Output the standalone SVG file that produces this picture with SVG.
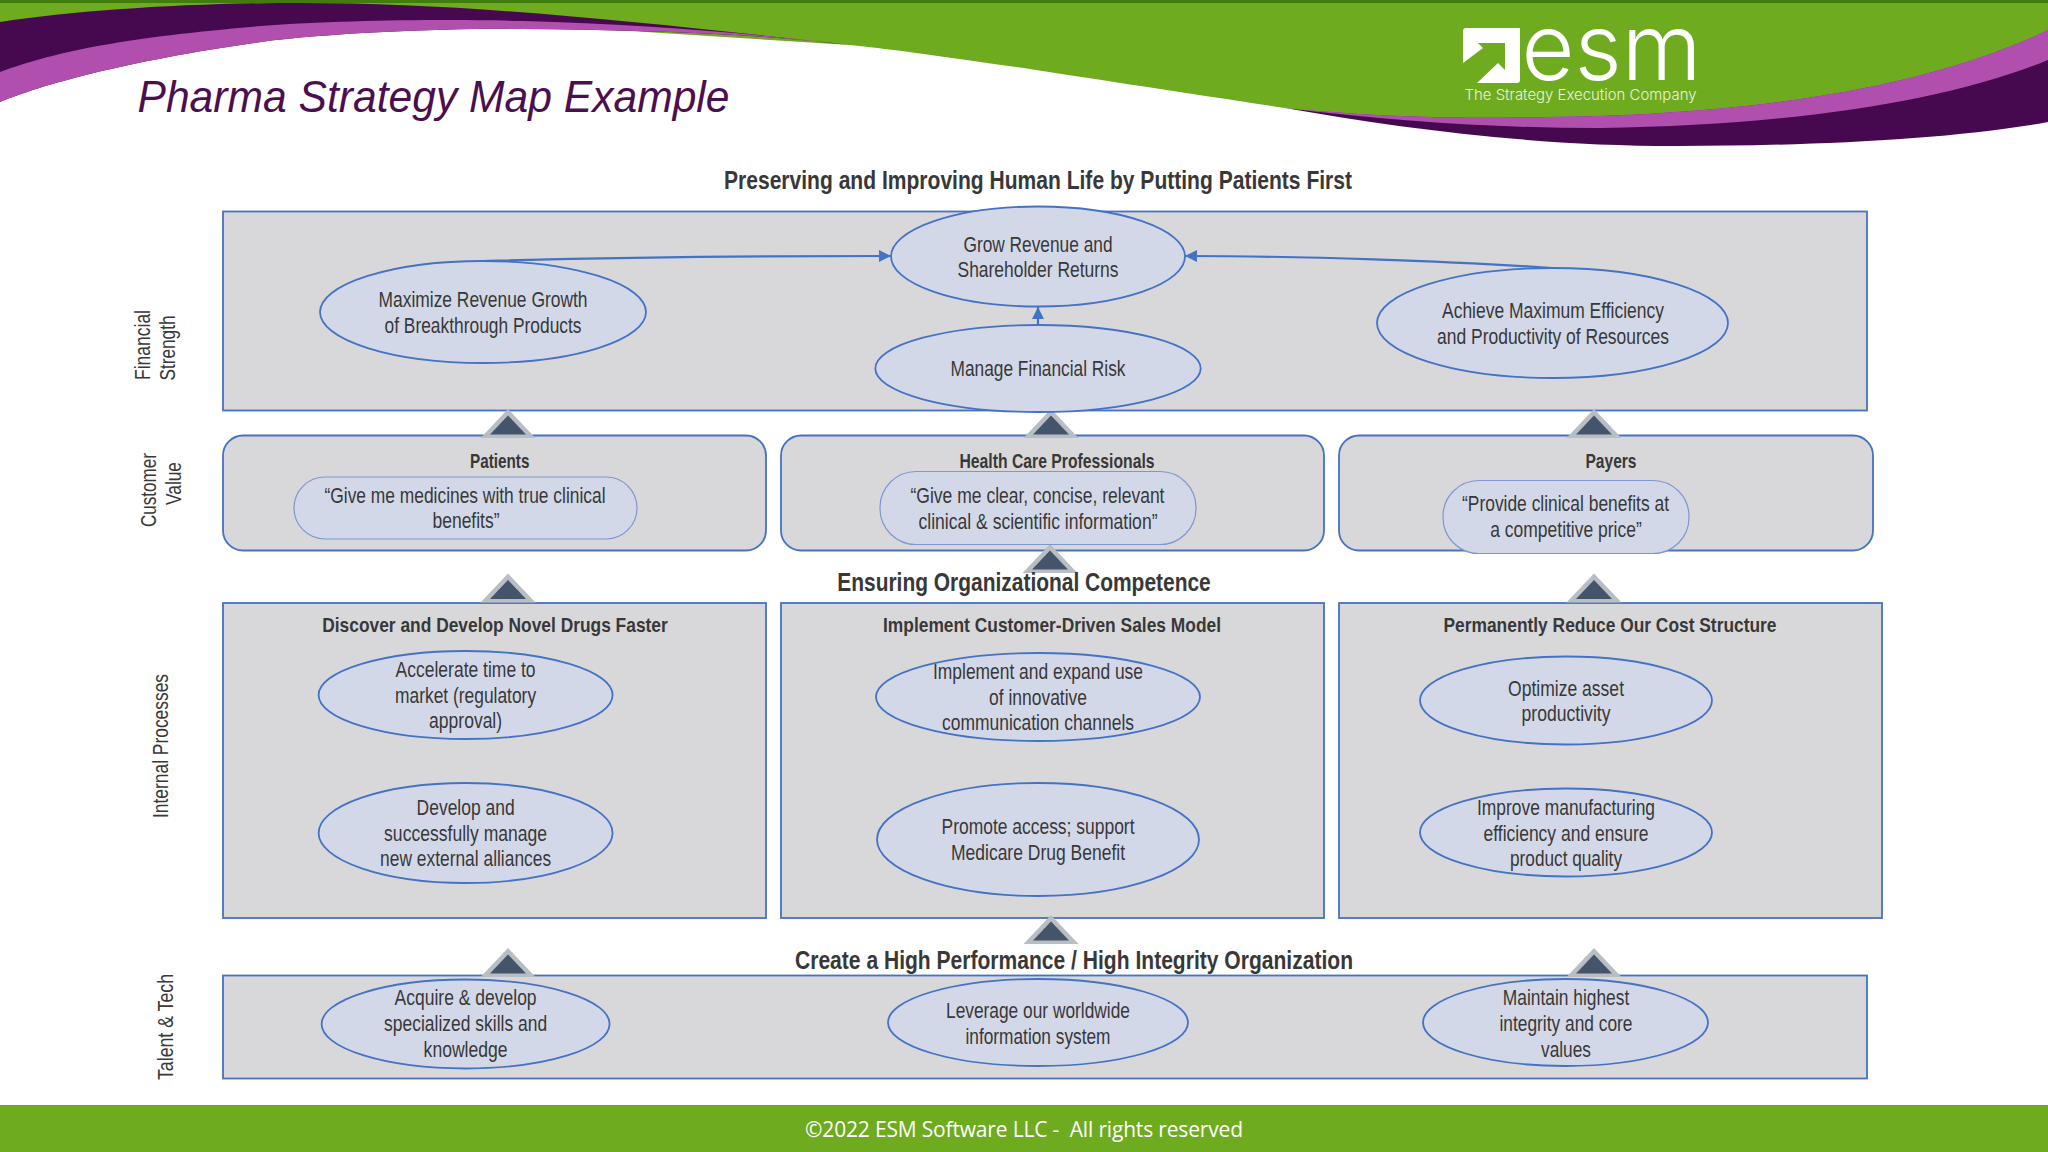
<svg xmlns="http://www.w3.org/2000/svg" width="2048" height="1152" viewBox="0 0 2048 1152">
<style>
text{font-family:"Liberation Sans",Arial,sans-serif;fill:#383838;text-anchor:middle;font-size:21.5px}
.b{font-weight:700;font-size:21px}
.h{font-weight:700;font-size:26px}
.box{fill:#d8d8da;stroke:#4472c4;stroke-width:1.8}
.e{fill:#d3d8e8;stroke:#4472c4;stroke-width:1.8}
.p{fill:#d3d8e8;stroke:#7f96cf;stroke-width:1.2}
.c{fill:none;stroke:#4472c4;stroke-width:2.2}
.to{fill:#b9bdc4}
.ti{fill:#44546a}
</style>
<defs>
<marker id="a" markerWidth="13" markerHeight="13" refX="12" refY="6" orient="auto" markerUnits="userSpaceOnUse"><path d="M0,0L12,6L0,12Z" fill="#4472c4"/></marker>
<g id="tri"><path class="to" d="M0,0L27.5,29H-27.5Z"/><path class="ti" d="M0,6.5L18,25.5H-18Z"/></g>
</defs>
<rect width="2048" height="1152" fill="#fff"/>
<g id="header">
<path d="M0,0H2048V30C1900,100 1700,115 1547,117C1480,118 1400,119 1285,108C1200,95 1100,80 1024,68C950,58 900,50 850,45L300,10L0,25Z" fill="#6eab1f"/>
<rect width="2048" height="3" fill="#3f7d0c"/>
<path d="M0,22C80,10 190,3 300,3C470,3 640,22 850,45C750,33 640,30 523,29C450,28 330,33 261,42C130,60 40,85 0,102Z" fill="#46084f"/>
<path d="M0,72C60,50 130,37 261,26C340,20 450,19 523,21C640,24 750,33 850,45C750,33 640,30 523,29C450,28 330,33 261,42C130,60 40,85 0,102Z" fill="#b04fae"/>
<path d="M1285,108C1400,128 1530,146 1677,146C1800,146 1950,140 2048,122V30C1900,100 1700,115 1547,117C1480,118 1400,119 1285,108Z" fill="#46084f"/>
<path d="M1285,108C1400,119 1480,118 1547,117C1700,115 1900,100 2048,30V60C1950,100 1800,125 1600,128C1500,128 1400,122 1285,108Z" fill="#b04fae"/>
<path d="M1466,28H1520V80Q1520,83 1517,83H1477L1498,63L1505,70V43H1478L1483,48L1463,63V31Q1463,28 1466,28Z" fill="#fff"/>
<text x="1611.5" y="80" textLength="180" lengthAdjust="spacingAndGlyphs" style="font-family:Inter,'Liberation Sans',sans-serif;font-weight:300;font-size:92px;fill:#fff">esm</text>
<text x="1580.5" y="99.5" textLength="232" lengthAdjust="spacingAndGlyphs" style="font-family:Inter,'Liberation Sans',sans-serif;font-weight:300;font-size:15px;fill:#eaf3dd">The Strategy Execution Company</text>
<text x="433.5" y="112" textLength="592" lengthAdjust="spacingAndGlyphs" style="font-size:45px;font-style:italic;fill:#4b0f50">Pharma Strategy Map Example</text>
</g>
<text class="h" x="1038" y="189" textLength="628" lengthAdjust="spacingAndGlyphs">Preserving and Improving Human Life by Putting Patients First</text>
<g id="labels">
<text transform="translate(150,345) rotate(-90)" textLength="70" lengthAdjust="spacingAndGlyphs">Financial</text>
<text transform="translate(175,348) rotate(-90)" textLength="65" lengthAdjust="spacingAndGlyphs">Strength</text>
<text transform="translate(156,490) rotate(-90)" textLength="74" lengthAdjust="spacingAndGlyphs">Customer</text>
<text transform="translate(181,483.5) rotate(-90)" textLength="43" lengthAdjust="spacingAndGlyphs">Value</text>
<text transform="translate(168,746) rotate(-90)" textLength="144" lengthAdjust="spacingAndGlyphs">Internal Processes</text>
<text transform="translate(173,1027) rotate(-90)" textLength="106" lengthAdjust="spacingAndGlyphs">Talent &amp; Tech</text>
</g>
<g id="panels">
<rect class="box" x="223" y="211.5" width="1644" height="199"/>
<rect class="box" x="223" y="435.5" width="543" height="115" rx="20"/>
<rect class="box" x="781" y="435.5" width="543" height="115" rx="20"/>
<rect class="box" x="1339" y="435.5" width="534" height="115" rx="20"/>
<rect class="box" x="223" y="603" width="543" height="315"/>
<rect class="box" x="781" y="603" width="543" height="315"/>
<rect class="box" x="1339" y="603" width="543" height="315"/>
<rect class="box" x="223" y="975.5" width="1644" height="103"/>
</g>
<g id="triangles">
<use href="#tri" x="508" y="409"/><use href="#tri" x="1051" y="409"/><use href="#tri" x="1594" y="409"/>
<use href="#tri" x="508" y="573.5"/><use href="#tri" x="1050" y="544"/><use href="#tri" x="1594" y="573.5"/>
<use href="#tri" x="1051" y="915"/>
<use href="#tri" x="508" y="948"/><use href="#tri" x="1594" y="948"/>
</g>
<g id="connectors">
<path class="c" marker-end="url(#a)" d="M483,261C600,258 760,256 891,256"/>
<path class="c" marker-end="url(#a)" d="M1552,268C1450,261 1300,256 1185,256"/>
<path class="c" marker-end="url(#a)" d="M1038,325V307"/>
</g>
<g id="n-grow"><ellipse class="e" cx="1038" cy="256.5" rx="147" ry="50"/><text x="1038" y="251.5" textLength="149" lengthAdjust="spacingAndGlyphs">Grow Revenue and</text><text x="1038" y="277" textLength="161" lengthAdjust="spacingAndGlyphs">Shareholder Returns</text></g>
<g id="n-risk"><ellipse class="e" cx="1038" cy="368.5" rx="162.7" ry="43.5"/><text x="1038" y="376" textLength="175" lengthAdjust="spacingAndGlyphs">Manage Financial Risk</text></g>
<g id="n-max"><ellipse class="e" cx="483" cy="312" rx="163" ry="51"/><text x="483" y="307" textLength="209" lengthAdjust="spacingAndGlyphs">Maximize Revenue Growth</text><text x="483" y="333" textLength="197" lengthAdjust="spacingAndGlyphs">of Breakthrough Products</text></g>
<g id="n-eff"><ellipse class="e" cx="1552.5" cy="323" rx="175.5" ry="55"/><text x="1553" y="318" textLength="222" lengthAdjust="spacingAndGlyphs">Achieve Maximum Efficiency</text><text x="1553" y="344" textLength="232" lengthAdjust="spacingAndGlyphs">and Productivity of Resources</text></g>
<g id="n-patients"><text class="b" x="499.7" y="467.5" textLength="59.4" lengthAdjust="spacingAndGlyphs">Patients</text><rect class="p" x="294" y="477" width="343" height="62" rx="31"/><text x="465" y="503" textLength="281" lengthAdjust="spacingAndGlyphs">“Give me medicines with true clinical</text><text x="466" y="528" textLength="67" lengthAdjust="spacingAndGlyphs">benefits”</text></g>
<g id="n-hcp"><text class="b" x="1057" y="467.5" textLength="195" lengthAdjust="spacingAndGlyphs">Health Care Professionals</text><rect class="p" x="880" y="471.5" width="316" height="73" rx="36"/><text x="1037.5" y="503" textLength="254" lengthAdjust="spacingAndGlyphs">“Give me clear, concise, relevant</text><text x="1038" y="529" textLength="239" lengthAdjust="spacingAndGlyphs">clinical &amp; scientific information”</text></g>
<g id="n-payers"><text class="b" x="1611" y="467.5" textLength="51" lengthAdjust="spacingAndGlyphs">Payers</text><rect class="p" x="1443" y="480.5" width="246" height="73" rx="36"/><text x="1565.5" y="511" textLength="207" lengthAdjust="spacingAndGlyphs">“Provide clinical benefits at</text><text x="1566" y="537" textLength="151.5" lengthAdjust="spacingAndGlyphs">a competitive price”</text></g>
<text class="h" x="1024" y="591" textLength="373.5" lengthAdjust="spacingAndGlyphs">Ensuring Organizational Competence</text>
<text class="b" x="495" y="632" textLength="345.5" lengthAdjust="spacingAndGlyphs">Discover and Develop Novel Drugs Faster</text>
<text class="b" x="1052" y="632" textLength="338" lengthAdjust="spacingAndGlyphs">Implement Customer-Driven Sales Model</text>
<text class="b" x="1610" y="632" textLength="333" lengthAdjust="spacingAndGlyphs">Permanently Reduce Our Cost Structure</text>
<g id="n-acc"><ellipse class="e" cx="465.6" cy="695" rx="147" ry="44"/><text x="465.6" y="677" textLength="140" lengthAdjust="spacingAndGlyphs">Accelerate time to</text><text x="465.6" y="703" textLength="141" lengthAdjust="spacingAndGlyphs">market (regulatory</text><text x="465.6" y="728" textLength="73" lengthAdjust="spacingAndGlyphs">approval)</text></g>
<g id="n-dev"><ellipse class="e" cx="465.6" cy="833" rx="147" ry="50"/><text x="465.6" y="815" textLength="98" lengthAdjust="spacingAndGlyphs">Develop and</text><text x="465.6" y="841" textLength="163" lengthAdjust="spacingAndGlyphs">successfully manage</text><text x="465.6" y="866" textLength="171" lengthAdjust="spacingAndGlyphs">new external alliances</text></g>
<g id="n-impl"><ellipse class="e" cx="1038" cy="697" rx="162" ry="44"/><text x="1038" y="679" textLength="210" lengthAdjust="spacingAndGlyphs">Implement and expand use</text><text x="1038" y="705" textLength="98" lengthAdjust="spacingAndGlyphs">of innovative</text><text x="1038" y="730" textLength="192" lengthAdjust="spacingAndGlyphs">communication channels</text></g>
<g id="n-prom"><ellipse class="e" cx="1038" cy="839.5" rx="161" ry="56.5"/><text x="1038" y="834" textLength="193" lengthAdjust="spacingAndGlyphs">Promote access; support</text><text x="1038" y="860" textLength="174" lengthAdjust="spacingAndGlyphs">Medicare Drug Benefit</text></g>
<g id="n-opt"><ellipse class="e" cx="1566" cy="700.5" rx="146" ry="44"/><text x="1566" y="696" textLength="116" lengthAdjust="spacingAndGlyphs">Optimize asset</text><text x="1566" y="721" textLength="89" lengthAdjust="spacingAndGlyphs">productivity</text></g>
<g id="n-mfg"><ellipse class="e" cx="1566" cy="832.5" rx="146" ry="44"/><text x="1566" y="815" textLength="178" lengthAdjust="spacingAndGlyphs">Improve manufacturing</text><text x="1566" y="841" textLength="165" lengthAdjust="spacingAndGlyphs">efficiency and ensure</text><text x="1566" y="866" textLength="112" lengthAdjust="spacingAndGlyphs">product quality</text></g>
<text class="h" x="1074" y="969" textLength="558" lengthAdjust="spacingAndGlyphs">Create a High Performance / High Integrity Organization</text>
<g id="n-acq"><ellipse class="e" cx="465.6" cy="1024" rx="144" ry="44.5"/><text x="465.6" y="1005" textLength="142" lengthAdjust="spacingAndGlyphs">Acquire &amp; develop</text><text x="465.6" y="1031" textLength="163" lengthAdjust="spacingAndGlyphs">specialized skills and</text><text x="465.6" y="1057" textLength="84" lengthAdjust="spacingAndGlyphs">knowledge</text></g>
<g id="n-lev"><ellipse class="e" cx="1038" cy="1022.5" rx="150" ry="43.5"/><text x="1038" y="1018" textLength="184" lengthAdjust="spacingAndGlyphs">Leverage our worldwide</text><text x="1038" y="1044" textLength="145" lengthAdjust="spacingAndGlyphs">information system</text></g>
<g id="n-int"><ellipse class="e" cx="1565.5" cy="1022.5" rx="142.5" ry="43.5"/><text x="1566" y="1005" textLength="126.5" lengthAdjust="spacingAndGlyphs">Maintain highest</text><text x="1566" y="1031" textLength="133" lengthAdjust="spacingAndGlyphs">integrity and core</text><text x="1566" y="1057" textLength="50" lengthAdjust="spacingAndGlyphs">values</text></g>
<g id="footer"><rect y="1105" width="2048" height="47" fill="#6eab1f"/><text x="1024" y="1137" xml:space="preserve" textLength="438" style="font-family:'Open Sans',sans-serif;font-size:21px;fill:#fff">©2022 ESM Software LLC -  All rights reserved</text></g>
</svg>
